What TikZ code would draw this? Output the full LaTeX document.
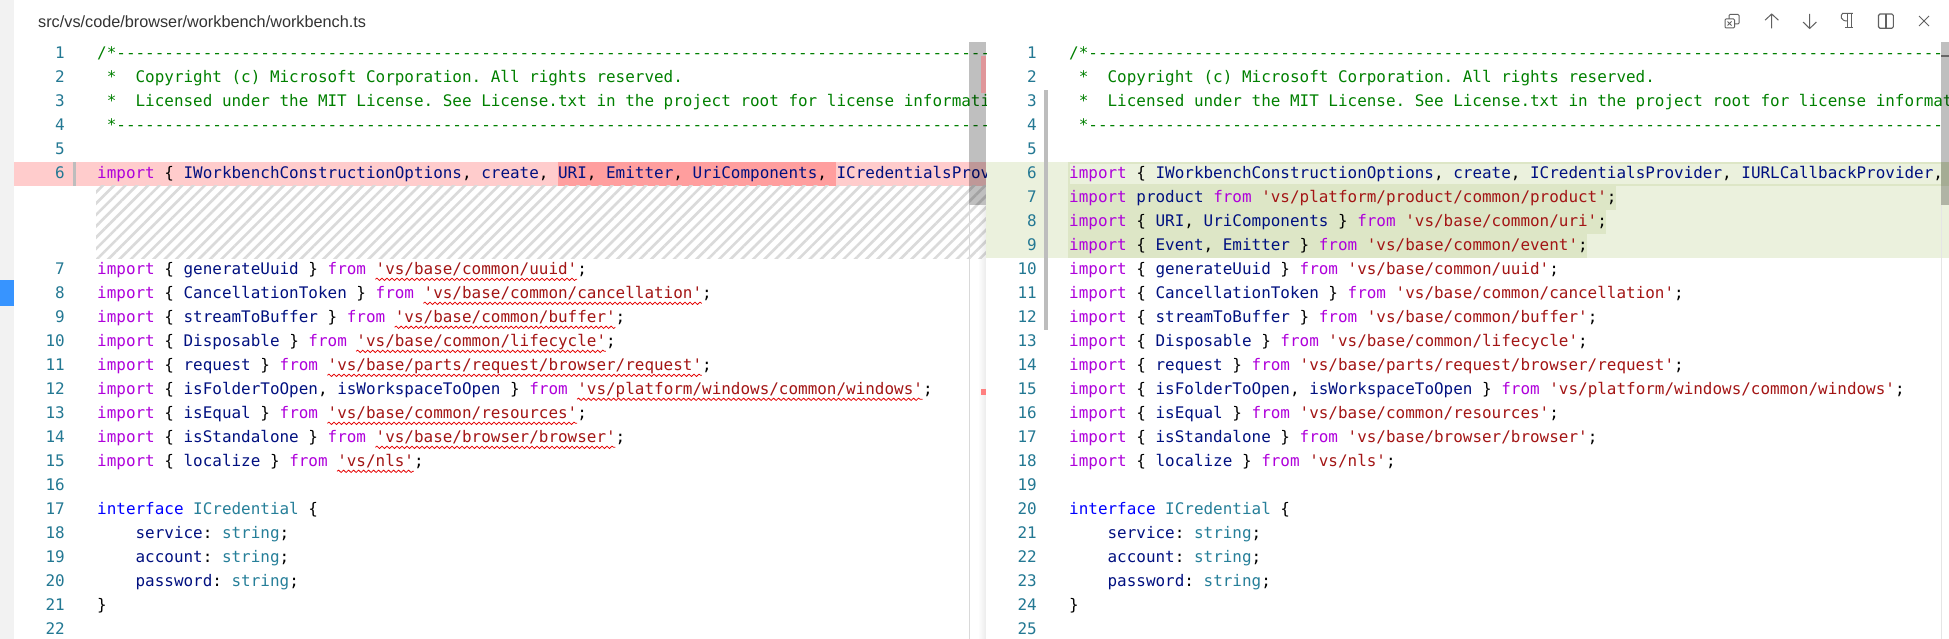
\documentclass[tikz,border=0pt]{standalone}
\usepackage{fontspec}
\setmainfont{Liberation Sans}
\setmonofont{DejaVu Sans Mono}
\usetikzlibrary{backgrounds,fadings,patterns.meta,decorations.pathmorphing}
\definecolor{keycolor}{HTML}{AF00DB}
\definecolor{idcolor}{HTML}{001080}
\definecolor{strcolor}{HTML}{A31515}
\definecolor{commentcolor}{HTML}{008000}
\definecolor{typecolor}{HTML}{267F99}
\definecolor{blucolor}{HTML}{0000FF}
\definecolor{numcolor}{HTML}{237893}
\definecolor{iconcolor}{HTML}{616161}
\definecolor{pinkcolor}{HTML}{FFCCCC}
\definecolor{redcolor}{HTML}{FF9E9E}
\definecolor{palecolor}{HTML}{EBF1DD}
\definecolor{greencolor}{HTML}{DDE6C6}
\definecolor{hatchcolor}{HTML}{DADADA}
\definecolor{barcolor}{HTML}{BDBDBD}
\definecolor{markcolor}{HTML}{3794FF}
\definecolor{rulercolor}{HTML}{E0969A}
\newcommand{\ckey}[1]{\textcolor{keycolor}{#1}}
\newcommand{\cid}[1]{\textcolor{idcolor}{#1}}
\newcommand{\cstr}[1]{\textcolor{strcolor}{#1}}
\newcommand{\ctype}[1]{\textcolor{typecolor}{#1}}
\newcommand{\cblu}[1]{\textcolor{blucolor}{#1}}
\newcommand{\dashes}{-----------------------------------------------------------------------------------------}
\newcommand{\squiggly}[3]{\draw[squig] ({97+9.6*#2},#1) -- ({97+9.6*(#2+#3)},#1);}
\tikzset{
  code/.style={anchor=base west,inner sep=0pt,font=\ttfamily\fontsize{15.95}{24}\selectfont},
  comment/.style={code,text=commentcolor},
  linenum/.style={anchor=base east,inner sep=0pt,text=numcolor,font=\ttfamily\fontsize{15.95}{24}\selectfont},
  squig/.style={draw=red!90!black,line width=0.75pt,decorate,decoration={snake,amplitude=1.2pt,segment length=5pt}},
  icon/.style={draw=iconcolor,line width=1pt}
}

\begin{document}
\begin{tikzpicture}[x=1pt,y=-1pt]
\useasboundingbox (0,0) rectangle (1949,639);
\node[anchor=base west,inner sep=0pt,text=black!80,font=\fontsize{16.25}{20}\selectfont] (title) at (38, 27.5) {src/vs/code/browser/workbench/workbench.ts};
%left numbers
\node[linenum] (n1) at (65, 58.3) {1};
\node[linenum] (n2) at (65, 82.3) {2};
\node[linenum] (n3) at (65, 106.3) {3};
\node[linenum] (n4) at (65, 130.3) {4};
\node[linenum] (n5) at (65, 154.3) {5};
\node[linenum] (n6) at (65, 178.3) {6};
\node[linenum] (n7) at (65, 274.3) {7};
\node[linenum] (n8) at (65, 298.3) {8};
\node[linenum] (n9) at (65, 322.3) {9};
\node[linenum] (n10) at (65, 346.3) {10};
\node[linenum] (n11) at (65, 370.3) {11};
\node[linenum] (n12) at (65, 394.3) {12};
\node[linenum] (n13) at (65, 418.3) {13};
\node[linenum] (n14) at (65, 442.3) {14};
\node[linenum] (n15) at (65, 466.3) {15};
\node[linenum] (n16) at (65, 490.3) {16};
\node[linenum] (n17) at (65, 514.3) {17};
\node[linenum] (n18) at (65, 538.3) {18};
\node[linenum] (n19) at (65, 562.3) {19};
\node[linenum] (n20) at (65, 586.3) {20};
\node[linenum] (n21) at (65, 610.3) {21};
\node[linenum] (n22) at (65, 634.3) {22};
%right numbers
\node[linenum] (m1) at (1037, 58.3) {1};
\node[linenum] (m2) at (1037, 82.3) {2};
\node[linenum] (m3) at (1037, 106.3) {3};
\node[linenum] (m4) at (1037, 130.3) {4};
\node[linenum] (m5) at (1037, 154.3) {5};
\node[linenum] (m6) at (1037, 178.3) {6};
\node[linenum] (m7) at (1037, 202.3) {7};
\node[linenum] (m8) at (1037, 226.3) {8};
\node[linenum] (m9) at (1037, 250.3) {9};
\node[linenum] (m10) at (1037, 274.3) {10};
\node[linenum] (m11) at (1037, 298.3) {11};
\node[linenum] (m12) at (1037, 322.3) {12};
\node[linenum] (m13) at (1037, 346.3) {13};
\node[linenum] (m14) at (1037, 370.3) {14};
\node[linenum] (m15) at (1037, 394.3) {15};
\node[linenum] (m16) at (1037, 418.3) {16};
\node[linenum] (m17) at (1037, 442.3) {17};
\node[linenum] (m18) at (1037, 466.3) {18};
\node[linenum] (m19) at (1037, 490.3) {19};
\node[linenum] (m20) at (1037, 514.3) {20};
\node[linenum] (m21) at (1037, 538.3) {21};
\node[linenum] (m22) at (1037, 562.3) {22};
\node[linenum] (m23) at (1037, 586.3) {23};
\node[linenum] (m24) at (1037, 610.3) {24};
\node[linenum] (m25) at (1037, 634.3) {25};
%left code
\begin{scope}
\clip (0,0) rectangle (986,639);
\node[comment] (l1) at (97, 58.3) {/*\dashes--};
\node[comment] (l2) at (97, 82.3) {~*~~Copyright (c) Microsoft Corporation. All rights reserved.};
\node[comment] (l3) at (97, 106.3) {~*~~Licensed under the MIT License. See License.txt in the project root for license informati};
\node[comment] (l4) at (97, 130.3) {~*\dashes--};
\node[code] (l6) at (97, 178.3) {\ckey{import} \{ \cid{IWorkbenchConstructionOptions}, \cid{create}, \cid{URI}, \cid{Emitter}, \cid{UriComponents}, \cid{ICredentialsProv}};
\node[code] (l7) at (97, 274.3) {\ckey{import} \{ \cid{generateUuid} \} \ckey{from} \cstr{'vs/base/common/uuid'};};
\node[code] (l8) at (97, 298.3) {\ckey{import} \{ \cid{CancellationToken} \} \ckey{from} \cstr{'vs/base/common/cancellation'};};
\node[code] (l9) at (97, 322.3) {\ckey{import} \{ \cid{streamToBuffer} \} \ckey{from} \cstr{'vs/base/common/buffer'};};
\node[code] (l10) at (97, 346.3) {\ckey{import} \{ \cid{Disposable} \} \ckey{from} \cstr{'vs/base/common/lifecycle'};};
\node[code] (l11) at (97, 370.3) {\ckey{import} \{ \cid{request} \} \ckey{from} \cstr{'vs/base/parts/request/browser/request'};};
\node[code] (l12) at (97, 394.3) {\ckey{import} \{ \cid{isFolderToOpen}, \cid{isWorkspaceToOpen} \} \ckey{from} \cstr{'vs/platform/windows/common/windows'};};
\node[code] (l13) at (97, 418.3) {\ckey{import} \{ \cid{isEqual} \} \ckey{from} \cstr{'vs/base/common/resources'};};
\node[code] (l14) at (97, 442.3) {\ckey{import} \{ \cid{isStandalone} \} \ckey{from} \cstr{'vs/base/browser/browser'};};
\node[code] (l15) at (97, 466.3) {\ckey{import} \{ \cid{localize} \} \ckey{from} \cstr{'vs/nls'};};
\node[code] (l17) at (97, 514.3) {\cblu{interface} \ctype{ICredential} \{};
\node[code] (l18) at (97, 538.3) {~~~~\cid{service}: \ctype{string};};
\node[code] (l19) at (97, 562.3) {~~~~\cid{account}: \ctype{string};};
\node[code] (l20) at (97, 586.3) {~~~~\cid{password}: \ctype{string};};
\node[code] (l21) at (97, 610.3) {\}};
\end{scope}
%squiggles
\squiggly{279.3}{29}{21}
\squiggly{303.3}{34}{29}
\squiggly{327.3}{31}{23}
\squiggly{351.3}{27}{26}
\squiggly{375.3}{24}{39}
\squiggly{399.3}{50}{36}
\squiggly{423.3}{24}{26}
\squiggly{447.3}{29}{25}
\squiggly{471.3}{25}{8}
%right code
\begin{scope}
\clip (986,0) rectangle (1949,639);
\node[comment] (r1) at (1069, 58.3) {/*\dashes};
\node[comment] (r2) at (1069, 82.3) {~*~~Copyright (c) Microsoft Corporation. All rights reserved.};
\node[comment] (r3) at (1069, 106.3) {~*~~Licensed under the MIT License. See License.txt in the project root for license informat};
\node[comment] (r4) at (1069, 130.3) {~*\dashes};
\node[code] (r6) at (1069, 178.3) {\ckey{import} \{ \cid{IWorkbenchConstructionOptions}, \cid{create}, \cid{ICredentialsProvider}, \cid{IURLCallbackProvider},};
\node[code] (r7) at (1069, 202.3) {\ckey{import} \cid{product} \ckey{from} \cstr{'vs/platform/product/common/product'};};
\node[code] (r8) at (1069, 226.3) {\ckey{import} \{ \cid{URI}, \cid{UriComponents} \} \ckey{from} \cstr{'vs/base/common/uri'};};
\node[code] (r9) at (1069, 250.3) {\ckey{import} \{ \cid{Event}, \cid{Emitter} \} \ckey{from} \cstr{'vs/base/common/event'};};
\node[code] (r10) at (1069, 274.3) {\ckey{import} \{ \cid{generateUuid} \} \ckey{from} \cstr{'vs/base/common/uuid'};};
\node[code] (r11) at (1069, 298.3) {\ckey{import} \{ \cid{CancellationToken} \} \ckey{from} \cstr{'vs/base/common/cancellation'};};
\node[code] (r12) at (1069, 322.3) {\ckey{import} \{ \cid{streamToBuffer} \} \ckey{from} \cstr{'vs/base/common/buffer'};};
\node[code] (r13) at (1069, 346.3) {\ckey{import} \{ \cid{Disposable} \} \ckey{from} \cstr{'vs/base/common/lifecycle'};};
\node[code] (r14) at (1069, 370.3) {\ckey{import} \{ \cid{request} \} \ckey{from} \cstr{'vs/base/parts/request/browser/request'};};
\node[code] (r15) at (1069, 394.3) {\ckey{import} \{ \cid{isFolderToOpen}, \cid{isWorkspaceToOpen} \} \ckey{from} \cstr{'vs/platform/windows/common/windows'};};
\node[code] (r16) at (1069, 418.3) {\ckey{import} \{ \cid{isEqual} \} \ckey{from} \cstr{'vs/base/common/resources'};};
\node[code] (r17) at (1069, 442.3) {\ckey{import} \{ \cid{isStandalone} \} \ckey{from} \cstr{'vs/base/browser/browser'};};
\node[code] (r18) at (1069, 466.3) {\ckey{import} \{ \cid{localize} \} \ckey{from} \cstr{'vs/nls'};};
\node[code] (r20) at (1069, 514.3) {\cblu{interface} \ctype{ICredential} \{};
\node[code] (r21) at (1069, 538.3) {~~~~\cid{service}: \ctype{string};};
\node[code] (r22) at (1069, 562.3) {~~~~\cid{account}: \ctype{string};};
\node[code] (r23) at (1069, 586.3) {~~~~\cid{password}: \ctype{string};};
\node[code] (r24) at (1069, 610.3) {\}};
\end{scope}
%bands
\begin{scope}[on background layer]
\fill[white] (0,0) rectangle (1949,639);
\fill[black!5] (0,0) rectangle (14,639);
\fill[markcolor] (0,280) rectangle (14,306);
\fill[pinkcolor] (14,162) rectangle (986,186);
\fill[redcolor] (557.8,162) rectangle (836,186);
\fill[barcolor] (72.6,162) rectangle (76,186);
\fill[pattern={Lines[angle=45,distance=8pt,line width=2.6pt]},pattern color=hatchcolor] (96,186) rectangle (986,258);
\fill[palecolor] (986,162) rectangle (1949,258);
\fill[greencolor] (1068,162) rectangle (1949,186);
\fill[palecolor] (1070,164) rectangle (1941,184);
\fill[greencolor] (1068,186) rectangle (1615.5,210);
\fill[greencolor] (1068,210) rectangle (1605.5,234);
\fill[greencolor] (1068,234) rectangle (1586.5,258);
\fill[barcolor] (1044,90) rectangle (1048,330);
\end{scope}
%scrollbars
\draw[black!15] (969.5,205) -- (969.5,639);
\fill[black,path fading=west,opacity=0.08] (978,205) rectangle (986,639);
\fill[black,opacity=0.25] (969,42) rectangle (986,205);
\fill[rulercolor] (981,56) rectangle (986,93);
\fill[red!50!white] (981,389) rectangle (986,395);
\fill[black,opacity=0.25] (1941,42) rectangle (1949,205);
\fill[black!60] (1941,55) rectangle (1949,57);
\draw[black!10] (1941.5,205) -- (1941.5,639);
%icons
\draw[icon,rounded corners=1pt] (1725,19) rectangle (1734.5,28);
\draw[icon,rounded corners=1pt] (1729,19) -- (1729,14.5) -- (1739,14.5) -- (1739,24) -- (1734.5,24);
\draw[icon,line width=0.8pt] (1727.5,21.5) -- (1731.5,25.5) (1731.5,21.5) -- (1727.5,25.5);
\draw[icon] (1771.7,28.5) -- (1771.7,14.5) (1765,20.2) -- (1771.7,14) -- (1778.4,20.2);
\draw[icon] (1809.7,14) -- (1809.7,28) (1803,22) -- (1809.7,28.5) -- (1816.4,22);
\draw[icon] (1852.8,13.5) -- (1842.5,13.5) .. controls (1840,15.5) and (1840.5,21) .. (1847.3,21);
\draw[icon] (1847.3,13.5) -- (1847.3,28) (1851,13.5) -- (1851,28) (1845,28) -- (1853,28);
\draw[icon,line width=1.1pt,rounded corners=1.5pt] (1878.5,14) rectangle (1893.3,28.3);
\draw[icon,line width=1.1pt] (1886,14) -- (1886,28.3);
\draw[icon] (1919,16) -- (1929,26) (1929,16) -- (1919,26);
\end{tikzpicture}
\end{document}
